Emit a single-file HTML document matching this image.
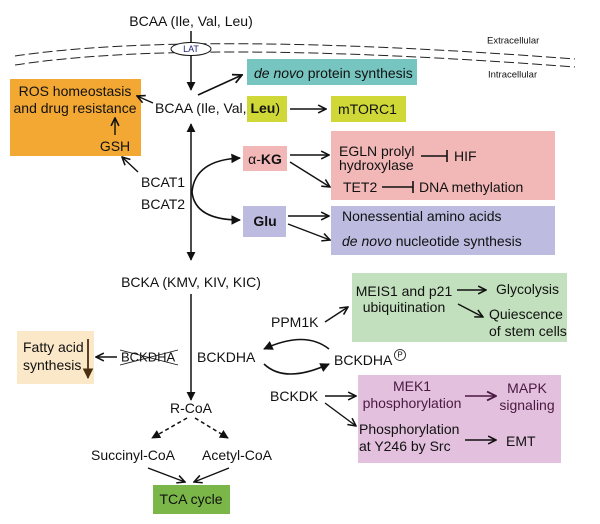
<!DOCTYPE html>
<html><head><meta charset="utf-8"><style>
html,body{margin:0;padding:0;background:#fff;}
svg{display:block;font-family:"Liberation Sans",Arial,sans-serif;}
text{dominant-baseline:central;fill:#111;}
</style></head><body>
<svg width="600" height="524" viewBox="0 0 600 524" xmlns="http://www.w3.org/2000/svg">
<defs>
<marker id="a" viewBox="0 0 10 10" refX="9" refY="5" markerWidth="7" markerHeight="7" orient="auto-start-reverse"><path d="M1,1 L9,5 L1,9" fill="none" stroke="#111" stroke-width="1.6"/></marker>
<marker id="f" viewBox="0 0 10 10" refX="9" refY="5" markerWidth="6" markerHeight="6" orient="auto-start-reverse"><path d="M0,0 L10,5 L0,10 z" fill="#111"/></marker>
<marker id="p" viewBox="0 0 10 10" refX="9" refY="5" markerWidth="7" markerHeight="7" orient="auto"><path d="M1,1 L9,5 L1,9" fill="none" stroke="#4a1840" stroke-width="1.6"/></marker>
<marker id="b" viewBox="0 0 10 10" refX="9" refY="5" markerWidth="6" markerHeight="6" orient="auto"><path d="M0,0 L10,5 L0,10 z" fill="#4a3010"/></marker>
</defs>
<g font-size="14">
<rect x="247" y="59" width="170" height="26" fill="#76c5c0"/>
<rect x="10" y="79" width="131" height="77" fill="#f3a833"/>
<rect x="247" y="96" width="40" height="26" fill="#cfd836"/>
<rect x="331" y="96" width="75" height="26" fill="#cfd836"/>
<rect x="331" y="131" width="224" height="69" fill="#f2b8b8"/>
<rect x="243" y="146" width="44" height="25" fill="#f2b8b8"/>
<rect x="331" y="206" width="224" height="49" fill="#bdbbe0"/>
<rect x="243" y="206" width="43" height="31" fill="#bdbbe0"/>
<rect x="352" y="273" width="215" height="69" fill="#c2e0bd"/>
<rect x="17" y="331" width="77" height="53" fill="#fbe8c8"/>
<rect x="358" y="375" width="203" height="88" fill="#e3c1de"/>
<rect x="153" y="485" width="77" height="29" fill="#7ab648"/>

<path d="M15,56 Q191,30 575,59" fill="none" stroke="#222" stroke-width="1" stroke-dasharray="10,4"/>
<path d="M15,65 Q191,38 575,67" fill="none" stroke="#222" stroke-width="1" stroke-dasharray="10,4"/>
<text x="191" y="21" text-anchor="middle">BCAA (Ile, Val, Leu)</text>
<line x1="191" y1="31" x2="191" y2="43" stroke="#111" stroke-width="1.5"/>
<ellipse cx="191" cy="49" rx="20" ry="6.5" fill="#fff" stroke="#111" stroke-width="1"/>
<text x="191" y="49" text-anchor="middle" font-size="9" style="fill:#23237a">LAT</text>
<text x="487" y="41" font-size="9.5">Extracellular</text>
<text x="488" y="75" font-size="9.5">Intracellular</text>
<line x1="191" y1="55" x2="191" y2="90" stroke="#111" stroke-width="1.5" marker-end="url(#f)"/>

<text x="254" y="73"><tspan font-style="italic">de novo</tspan> protein synthesis</text>
<line x1="198" y1="95" x2="242" y2="75" stroke="#111" stroke-width="1.6" marker-end="url(#a)"/>

<text x="75" y="91" text-anchor="middle">ROS homeostasis</text>
<text x="75" y="108" text-anchor="middle">and drug resistance</text>
<text x="115" y="146" text-anchor="middle">GSH</text>
<line x1="115" y1="135" x2="115" y2="118" stroke="#111" stroke-width="1.4" marker-end="url(#a)"/>

<text x="155" y="108">BCAA (Ile, Val, <tspan font-weight="bold">Leu</tspan>)</text>
<line x1="153" y1="103" x2="137" y2="96" stroke="#111" stroke-width="1.4" marker-end="url(#a)"/>
<line x1="290" y1="109" x2="326" y2="109" stroke="#111" stroke-width="1.4" marker-end="url(#a)"/>
<text x="338" y="109">mTORC1</text>

<line x1="191" y1="124" x2="191" y2="260" stroke="#111" stroke-width="1.5" marker-start="url(#f)" marker-end="url(#f)"/>
<text x="141" y="182">BCAT1</text>
<text x="141" y="204">BCAT2</text>
<line x1="138" y1="172" x2="122" y2="157" stroke="#111" stroke-width="1.4" marker-end="url(#a)"/>
<path d="M192,192 Q195,160 240,158" fill="none" stroke="#111" stroke-width="1.6" marker-end="url(#f)"/>
<path d="M192,192 Q195,220 240,220" fill="none" stroke="#111" stroke-width="1.6" marker-end="url(#f)"/>

<text x="265" y="159" text-anchor="middle"><tspan>α-</tspan><tspan font-weight="bold">KG</tspan></text>
<line x1="290" y1="155" x2="329" y2="155" stroke="#111" stroke-width="1.4" marker-end="url(#a)"/>
<line x1="290" y1="162" x2="330" y2="187" stroke="#111" stroke-width="1.4" marker-end="url(#a)"/>
<text x="339" y="151">EGLN prolyl</text>
<text x="339" y="165">hydroxylase</text>
<line x1="421" y1="156" x2="447" y2="156" stroke="#111" stroke-width="1.6"/>
<line x1="447" y1="150" x2="447" y2="162" stroke="#111" stroke-width="1.6"/>
<text x="454" y="156">HIF</text>
<text x="343" y="187">TET2</text>
<line x1="382" y1="187" x2="413" y2="187" stroke="#111" stroke-width="1.6"/>
<line x1="413" y1="181" x2="413" y2="193" stroke="#111" stroke-width="1.6"/>
<text x="419" y="187">DNA methylation</text>

<text x="265" y="221" text-anchor="middle" font-weight="bold">Glu</text>
<line x1="288" y1="216" x2="329" y2="216" stroke="#111" stroke-width="1.4" marker-end="url(#a)"/>
<line x1="288" y1="224" x2="330" y2="240" stroke="#111" stroke-width="1.4" marker-end="url(#a)"/>
<text x="342" y="216">Nonessential amino acids</text>
<text x="342" y="241"><tspan font-style="italic">de novo</tspan> nucleotide synthesis</text>

<text x="191" y="282" text-anchor="middle">BCKA (KMV, KIV, KIC)</text>
<line x1="191" y1="294" x2="191" y2="400" stroke="#111" stroke-width="1.5" marker-end="url(#f)"/>

<text x="23" y="347">Fatty acid</text>
<text x="23" y="365">synthesis</text>
<line x1="88" y1="339" x2="88" y2="378" stroke="#4a3010" stroke-width="1.8" marker-end="url(#b)"/>
<line x1="117" y1="357" x2="96" y2="357" stroke="#111" stroke-width="1.4" marker-end="url(#a)"/>
<text x="121" y="357" font-size="13">BCKDHA</text>
<line x1="120" y1="350" x2="178" y2="365" stroke="#111" stroke-width="0.8"/>
<line x1="120" y1="365" x2="178" y2="350" stroke="#111" stroke-width="0.8"/>
<text x="197" y="357">BCKDHA</text>
<path d="M329,349 Q305,330 264,349" fill="none" stroke="#111" stroke-width="1.6" marker-end="url(#f)"/>
<path d="M264,364 Q285,384 329,364" fill="none" stroke="#111" stroke-width="1.6" marker-end="url(#f)"/>
<text x="334" y="360">BCKDHA</text>
<circle cx="400" cy="355" r="5.5" fill="#fff" stroke="#111" stroke-width="0.8"/>
<text x="400" y="355" font-size="8" text-anchor="middle">P</text>

<text x="271" y="322">PPM1K</text>
<line x1="325" y1="322" x2="348" y2="307" stroke="#111" stroke-width="1.4" marker-end="url(#a)"/>
<text x="404" y="291" text-anchor="middle">MEIS1 and p21</text>
<text x="404" y="307" text-anchor="middle">ubiquitination</text>
<line x1="457" y1="290" x2="486" y2="290" stroke="#111" stroke-width="1.4" marker-end="url(#a)"/>
<text x="496" y="289">Glycolysis</text>
<line x1="458" y1="304" x2="483" y2="317" stroke="#111" stroke-width="1.4" marker-end="url(#a)"/>
<text x="489" y="314">Quiescence</text>
<text x="489" y="331">of stem cells</text>

<text x="270" y="396">BCKDK</text>
<line x1="325" y1="396" x2="356" y2="396" stroke="#111" stroke-width="1.4" marker-end="url(#a)"/>
<line x1="325" y1="403" x2="356" y2="426" stroke="#111" stroke-width="1.4" marker-end="url(#a)"/>
<text x="412" y="386" text-anchor="middle" style="fill:#4a1840">MEK1</text>
<text x="412" y="403" text-anchor="middle" style="fill:#4a1840">phosphorylation</text>
<text x="527" y="388" text-anchor="middle" style="fill:#4a1840">MAPK</text>
<text x="527" y="405" text-anchor="middle" style="fill:#4a1840">signaling</text>
<line x1="465" y1="396" x2="496" y2="396" stroke="#4a1840" stroke-width="1.6" marker-end="url(#p)"/>
<text x="359" y="429">Phosphorylation</text>
<text x="359" y="446">at Y246 by Src</text>
<line x1="465" y1="440" x2="496" y2="440" stroke="#111" stroke-width="1.4" marker-end="url(#a)"/>
<text x="506" y="441">EMT</text>

<text x="191" y="408" text-anchor="middle">R-CoA</text>
<line x1="187" y1="418" x2="152" y2="438" stroke="#111" stroke-width="1.5" stroke-dasharray="4,3" marker-end="url(#f)"/>
<line x1="195" y1="418" x2="228" y2="438" stroke="#111" stroke-width="1.5" stroke-dasharray="4,3" marker-end="url(#f)"/>
<text x="133" y="455" text-anchor="middle">Succinyl-CoA</text>
<text x="237" y="455" text-anchor="middle">Acetyl-CoA</text>
<line x1="148" y1="468" x2="185" y2="482" stroke="#111" stroke-width="1.4" marker-end="url(#a)"/>
<line x1="229" y1="468" x2="194" y2="482" stroke="#111" stroke-width="1.4" marker-end="url(#a)"/>
<text x="191" y="499" text-anchor="middle">TCA cycle</text>
</g>
</svg>
</body></html>
